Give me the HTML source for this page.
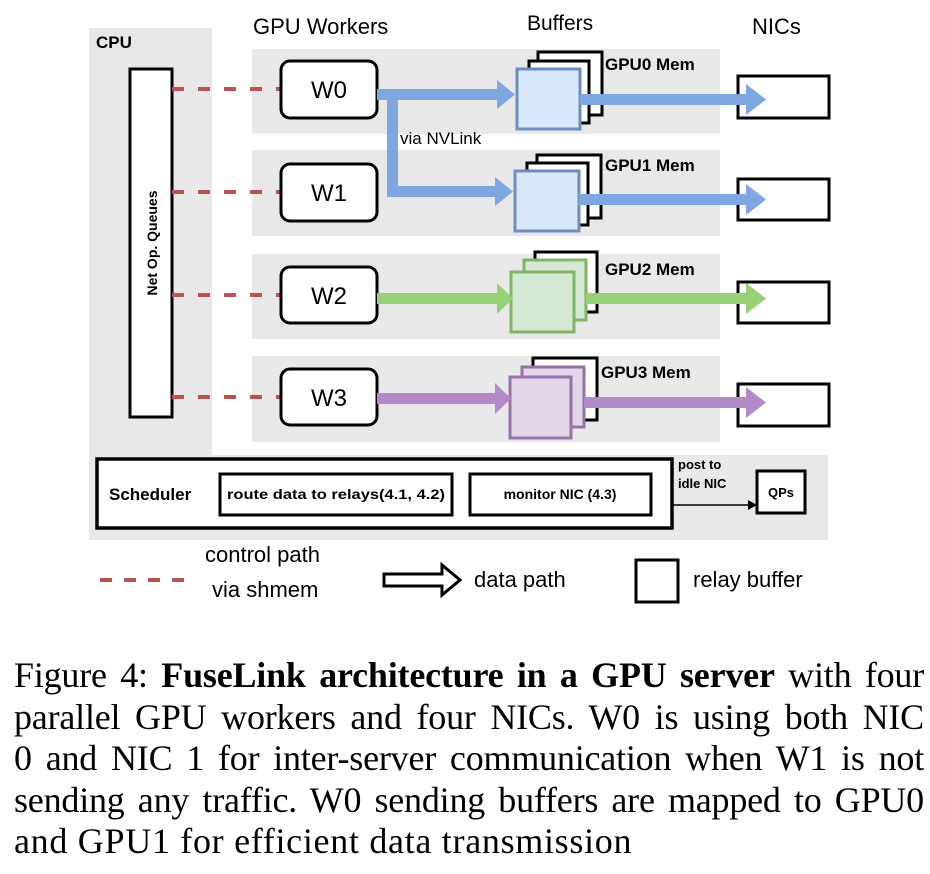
<!DOCTYPE html>
<html><head><meta charset="utf-8"><style>
body{margin:0;width:930px;height:874px;background:#fff;overflow:hidden;position:relative}
svg{position:absolute;left:0;top:0}
.cap{position:absolute;left:14px;top:655px;width:910px;font-family:"Liberation Serif",serif;font-size:36px;line-height:41.5px;color:#000;letter-spacing:-0.2px}
.cap div{text-align:justify;text-align-last:justify;white-space:nowrap}
.cap div.l{text-align-last:left;letter-spacing:0.7px}
</style></head><body>
<svg width="930" height="650" viewBox="0 0 930 650" font-family="Liberation Sans, sans-serif">
<rect x="89" y="28" width="123" height="430" fill="#e8e8e8"/>
<rect x="89" y="455" width="739" height="85" fill="#e8e8e8"/>
<rect x="252" y="49" width="468" height="85" fill="#e8e8e8"/>
<rect x="252" y="150" width="468" height="86" fill="#e8e8e8"/>
<rect x="252" y="254" width="468" height="85" fill="#e8e8e8"/>
<rect x="252" y="356" width="468" height="86" fill="#e8e8e8"/>
<text x="96" y="48" font-size="17" font-weight="bold">CPU</text>
<text x="253" y="34" font-size="22">GPU Workers</text>
<text x="527" y="30" font-size="21">Buffers</text>
<text x="752" y="34" font-size="22">NICs</text>
<rect x="130" y="69" width="42" height="348" fill="#fff" stroke="#000" stroke-width="3"/>
<text transform="translate(157,243) rotate(-90)" text-anchor="middle" font-size="14" font-weight="bold">Net Op. Queues</text>
<g stroke="#b85450" stroke-width="4" stroke-dasharray="12 14">
<line x1="172" y1="89" x2="281" y2="89"/><line x1="172" y1="192" x2="281" y2="192"/>
<line x1="172" y1="295" x2="281" y2="295"/><line x1="172" y1="397" x2="281" y2="397"/>
</g>
<g fill="#fff" stroke="#000" stroke-width="3">
<rect x="281" y="61" width="96" height="57" rx="9"/><rect x="281" y="164" width="96" height="57" rx="9"/>
<rect x="281" y="267" width="96" height="56" rx="9"/><rect x="281" y="369" width="96" height="56" rx="9"/>
</g>
<g font-size="24" text-anchor="middle"><text x="329" y="98">W0</text><text x="329" y="201">W1</text><text x="329" y="304">W2</text><text x="329" y="406">W3</text></g>
<g fill="#7ea6e0">
<rect x="377" y="89" width="120" height="11"/><path d="M497,80L515,94.5L497,109z"/>
<rect x="387" y="89" width="11" height="108"/>
<rect x="387" y="186" width="108" height="11"/><path d="M495,177L513,191.5L495,206z"/>
</g>
<text x="400" y="144" font-size="17">via NVLink</text>
<g fill="#fff" stroke="#000" stroke-width="3">
<rect x="538" y="52" width="64" height="63"/><rect x="529" y="61" width="60" height="62"/>
<rect x="537" y="155" width="64" height="63"/><rect x="527" y="163" width="61" height="62"/>
<rect x="535" y="252" width="62" height="60"/>
<rect x="533" y="358" width="64" height="62"/>
</g>
<rect x="517" y="69" width="63" height="60" fill="#dae8fc" stroke="#6c8ebf" stroke-width="3"/>
<rect x="515" y="171" width="64" height="60" fill="#dae8fc" stroke="#6c8ebf" stroke-width="3"/>
<rect x="524" y="260" width="62" height="60" fill="#d5e8d4" stroke="#82b366" stroke-width="3"/>
<rect x="511" y="272" width="63" height="60" fill="#d5e8d4" stroke="#82b366" stroke-width="3"/>
<rect x="522" y="367" width="62" height="60" fill="#e1d5e7" stroke="#9673a6" stroke-width="3"/>
<rect x="510" y="377" width="61" height="61" fill="#e1d5e7" stroke="#9673a6" stroke-width="3"/>
<g font-size="17" font-weight="bold"><text x="605" y="70">GPU0 Mem</text><text x="605" y="171">GPU1 Mem</text><text x="605" y="275">GPU2 Mem</text><text x="601" y="378">GPU3 Mem</text></g>
<g fill="#fff" stroke="#000" stroke-width="3">
<rect x="738" y="76" width="91" height="42"/><rect x="738" y="179" width="91" height="41"/>
<rect x="738" y="282" width="91" height="41"/><rect x="738" y="384" width="91" height="42"/>
</g>
<rect x="580" y="94" width="167" height="11" fill="#7ea6e0"/><path d="M746,84L766,99.5L746,115z" fill="#7ea6e0"/>
<rect x="579" y="194" width="167" height="11" fill="#7ea6e0"/><path d="M746,184L766,199.5L746,215z" fill="#7ea6e0"/>
<rect x="377" y="293" width="122" height="11" fill="#97d077"/><path d="M497,283L513,298.5L497,314z" fill="#97d077"/>
<rect x="586" y="293" width="161" height="11" fill="#97d077"/><path d="M746,283L766,298.5L746,314z" fill="#97d077"/>
<rect x="377" y="393" width="118" height="11" fill="#b38ac8"/><path d="M495,383L511,398.5L495,414z" fill="#b38ac8"/>
<rect x="584" y="397" width="163" height="11" fill="#b38ac8"/><path d="M746,387L766,402.5L746,418z" fill="#b38ac8"/>
<rect x="97" y="459" width="575" height="69" fill="#fff" stroke="#000" stroke-width="3.5"/>
<text x="109" y="500" font-size="17" font-weight="bold">Scheduler</text>
<rect x="220" y="474" width="232" height="41" fill="#fff" stroke="#000" stroke-width="3"/>
<text x="336" y="499" font-size="14" font-weight="bold" text-anchor="middle" textLength="218" lengthAdjust="spacingAndGlyphs">route data to relays(4.1, 4.2)</text>
<rect x="470" y="474" width="181" height="41" fill="#fff" stroke="#000" stroke-width="3"/>
<text x="560" y="499" font-size="14" font-weight="bold" text-anchor="middle">monitor NIC (4.3)</text>
<text x="678" y="469" font-size="13" font-weight="bold">post to</text>
<text x="678" y="488" font-size="13" font-weight="bold">idle NIC</text>
<line x1="672" y1="505" x2="750" y2="505" stroke="#000" stroke-width="1.5"/>
<path d="M748,500L757,505L748,510z"/>
<rect x="757" y="471" width="48" height="42" fill="#fff" stroke="#000" stroke-width="3"/>
<text x="781" y="497" font-size="13" font-weight="bold" text-anchor="middle">QPs</text>
<line x1="100" y1="580" x2="185" y2="580" stroke="#b85450" stroke-width="4" stroke-dasharray="12 12"/>
<text x="205" y="562" font-size="22">control path</text>
<text x="212" y="597" font-size="22">via shmem</text>
<path d="M384,574L442,574L442,565L460,580L442,595L442,586L384,586z" fill="#fff" stroke="#000" stroke-width="3"/>
<text x="474" y="587" font-size="22">data path</text>
<rect x="636" y="560" width="42" height="42" fill="#fff" stroke="#000" stroke-width="3"/>
<text x="693" y="587" font-size="22">relay buffer</text>
</svg>
<div class="cap">
<div>Figure 4: <b>FuseLink architecture in a GPU server</b> with four</div>
<div>parallel GPU workers and four NICs. W0 is using both NIC</div>
<div>0 and NIC 1 for inter-server communication when W1 is not</div>
<div>sending any traffic. W0 sending buffers are mapped to GPU0</div>
<div class="l">and GPU1 for efficient data transmission</div>
</div>
</body></html>
